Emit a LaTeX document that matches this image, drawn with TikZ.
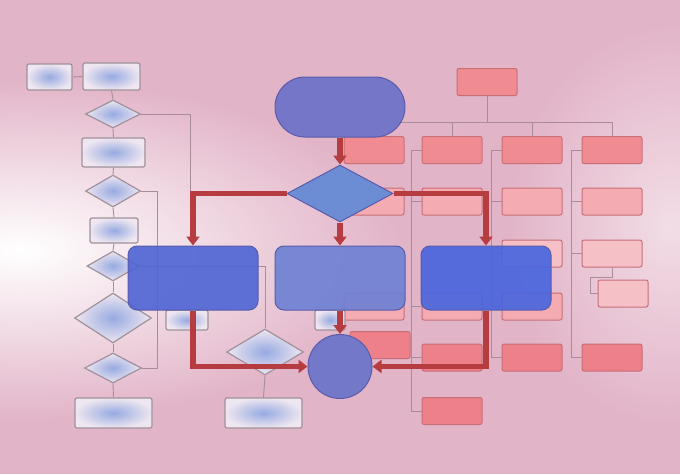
\documentclass[tikz,border=0pt]{standalone}
\usetikzlibrary{shapes.geometric,arrows.meta}
\definecolor{bgpink}{RGB}{226,180,200}
\definecolor{flowred}{RGB}{182,60,64}
\definecolor{tgray}{RGB}{168,140,152}
\definecolor{lgray}{RGB}{160,145,155}
\definecolor{lblue}{RGB}{150,170,225}
\definecolor{lwhite}{RGB}{238,230,240}
\definecolor{rfillA}{RGB}{240,140,145}
\definecolor{rfillB}{RGB}{244,172,178}
\definecolor{rfillC}{RGB}{245,192,198}
\definecolor{rfillD}{RGB}{238,128,138}
\definecolor{rborder}{RGB}{200,110,120}
\definecolor{tblue}{RGB}{118,118,200}
\definecolor{dblue}{RGB}{108,140,212}
\definecolor{b1blue}{RGB}{78,100,212}
\definecolor{b2blue}{RGB}{108,128,212}
\definecolor{b3blue}{RGB}{70,100,222}
\definecolor{cblue}{RGB}{115,120,200}
\definecolor{bedge}{RGB}{90,92,170}
\begin{document}
\begin{tikzpicture}[x=1pt,y=-1pt,
  lbox/.style={draw=lgray, line width=1.2pt, rounded corners=2pt, inner color=lblue, outer color=lwhite, inner sep=0pt},
  ldia/.style={diamond, draw=lgray, line width=1.2pt, inner color=lblue, outer color=lwhite, inner sep=0pt},
  rbox/.style={draw=rborder, line width=1pt, rounded corners=2pt, minimum width=60pt, minimum height=27pt, inner sep=0pt},
  thinln/.style={draw=tgray, line width=0.9pt},
  bbox/.style={draw=bedge, line width=1pt, rounded corners=9pt, minimum width=130pt, minimum height=64pt, inner sep=0pt, fill opacity=0.9},
  flow/.style={draw=flowred, line width=5.5pt, -{Triangle[length=9pt,width=13pt]}}
]
\useasboundingbox (0,0) rectangle (680,474);
\fill[bgpink] (0,0) rectangle (680,474);
\shade[inner color=white, outer color=bgpink] (20,250) ellipse [x radius=380, y radius=170];
\shade[inner color=white!55!bgpink, outer color=bgpink] (670,225) ellipse [x radius=160, y radius=200];

% ---------- red org chart boxes ----------
\node[rbox, fill=rfillA] (r0) at (487,82) {};
\node[rbox, fill=rfillA] (r01) at (374,150) {};
\node[rbox, fill=rfillA] (r11) at (452,150) {};
\node[rbox, fill=rfillA] (r21) at (532,150) {};
\node[rbox, fill=rfillA] (r31) at (612,150) {};
\node[rbox, fill=rfillB] (r02) at (374,201.5) {};
\node[rbox, fill=rfillB] (r12) at (452,201.5) {};
\node[rbox, fill=rfillB] (r22) at (532,201.5) {};
\node[rbox, fill=rfillB] (r32) at (612,201.5) {};
\node[rbox, fill=rfillC] (r23) at (532,253.5) {};
\node[rbox, fill=rfillC] (r33) at (612,253.5) {};
\node[rbox, fill=rfillC, minimum width=50pt] (rx) at (623,293.5) {};
\node[rbox, fill=rfillB] (r04) at (374,306.5) {};
\node[rbox, fill=rfillB] (r14) at (452,306.5) {};
\node[rbox, fill=rfillB] (r24) at (532,306.5) {};
\node[rbox, fill=rfillD] (r05) at (380,345) {};
\node[rbox, fill=rfillD] (r15) at (452,357.5) {};
\node[rbox, fill=rfillD] (r25) at (532,357.5) {};
\node[rbox, fill=rfillD] (r35) at (612,357.5) {};
\node[rbox, fill=rfillD] (r16) at (452,411) {};

% ---------- left column ----------
\node[lbox, minimum width=45pt, minimum height=26pt] (A) at (49.5,77) {};
\node[lbox, minimum width=57pt, minimum height=27pt] (B) at (111.5,76.5) {};
\node[ldia, minimum width=55pt, minimum height=28pt] (D1) at (113,114) {};
\node[lbox, minimum width=63pt, minimum height=29pt] (C) at (113.5,152.5) {};
\node[ldia, minimum width=55pt, minimum height=32pt] (D2) at (113,191) {};
\node[lbox, minimum width=48pt, minimum height=25pt] (D) at (114,230.5) {};
\node[ldia, minimum width=52pt, minimum height=30pt] (D3) at (113,266) {};
\node[ldia, minimum width=77pt, minimum height=50pt] (D4) at (113,318) {};
\node[ldia, minimum width=57pt, minimum height=30pt] (D5) at (113,368) {};
\node[lbox, minimum width=77pt, minimum height=30pt] (E) at (113.5,413) {};
\node[lbox, minimum width=77pt, minimum height=30pt] (F) at (263.5,413) {};
\node[ldia, minimum width=77pt, minimum height=46pt] (D6) at (265,352) {};
\node[lbox, minimum width=42pt, minimum height=20pt] (s1) at (187,320) {};
\node[lbox, minimum width=30pt, minimum height=20pt] (s2) at (330,320) {};

% ---------- thin connectors ----------
\coordinate (j1) at (190,193);
\coordinate (j2) at (157,191);
\coordinate (hb) at (487,122);
\coordinate (sp1b) at (411,411);
\coordinate (sp2b) at (491,357.5);
\coordinate (sp3b) at (571,357.5);
\coordinate (e1) at (590,277);
\draw[thinln] (A.east) -- (B.west);
\draw[thinln] (B.south) -- (D1.north);
\draw[thinln] (D1.south) -- (C.north);
\draw[thinln] (C.south) -- (D2.north);
\draw[thinln] (D2.south) -- (D.north);
\draw[thinln] (D.south) -- (D3.north);
\draw[thinln] (D3.south) -- (D4.north);
\draw[thinln] (D4.south) -- (D5.north);
\draw[thinln] (D5.south) -- (E.north);
\draw[thinln] (D1.east) -| (j1);
\draw[thinln] (D2.east) -- (j2) |- (D5.east);
\draw[thinln] (D3.east) -| (D6.north);
\draw[thinln] (D6.south) -- (F.north);
\draw[thinln] (r0.south) -- (hb);
\draw[thinln] (r01.north) |- (hb);
\draw[thinln] (r11.north) |- (hb);
\draw[thinln] (r21.north) |- (hb);
\draw[thinln] (r31.north) |- (hb);
\draw[thinln] (r11.west) -| (sp1b) -- (r16.west);
\draw[thinln] (r12.west) -- (r12.west -| sp1b);
\draw[thinln] (r14.west) -- (r14.west -| sp1b);
\draw[thinln] (r15.west) -- (r15.west -| sp1b);
\draw[thinln] (r21.west) -| (sp2b) -- (r25.west);
\draw[thinln] (r22.west) -- (r22.west -| sp2b);
\draw[thinln] (r23.west) -- (r23.west -| sp2b);
\draw[thinln] (r24.west) -- (r24.west -| sp2b);
\draw[thinln] (r31.west) -| (sp3b) -- (r35.west);
\draw[thinln] (r32.west) -- (r32.west -| sp3b);
\draw[thinln] (r33.west) -- (r33.west -| sp3b);
\draw[thinln] (r33.south) |- (e1) |- (rx.west);

% ---------- blue flow shapes ----------
\node[draw=bedge, line width=1pt, fill=tblue, rounded corners=30pt, minimum width=130pt, minimum height=60pt, inner sep=0pt] (T) at (340,107) {};
\node[diamond, draw=bedge, line width=1pt, fill=dblue, minimum width=106pt, minimum height=57pt, inner sep=0pt] (DM) at (340,193.5) {};
\node[bbox, fill=b1blue] (B1) at (193,278) {};
\node[bbox, fill=b2blue] (B2) at (340,278) {};
\node[bbox, fill=b3blue] (B3) at (486,278) {};
\node[circle, draw=bedge, line width=1pt, fill=cblue, minimum size=64pt, inner sep=0pt] (CI) at (340,366.5) {};

% ---------- red flow arrows ----------
\draw[flow] (T.south) -- (DM.north);
\draw[flow] (DM.south) -- (B2.north);
\draw[flow] (DM.west) -| (B1.north);
\draw[flow] (DM.east) -| (B3.north);
\draw[flow] (B1.south) |- (CI.west);
\draw[flow] (B2.south) -- (CI.north);
\draw[flow] (B3.south) |- (CI.east);
\end{tikzpicture}
\end{document}
